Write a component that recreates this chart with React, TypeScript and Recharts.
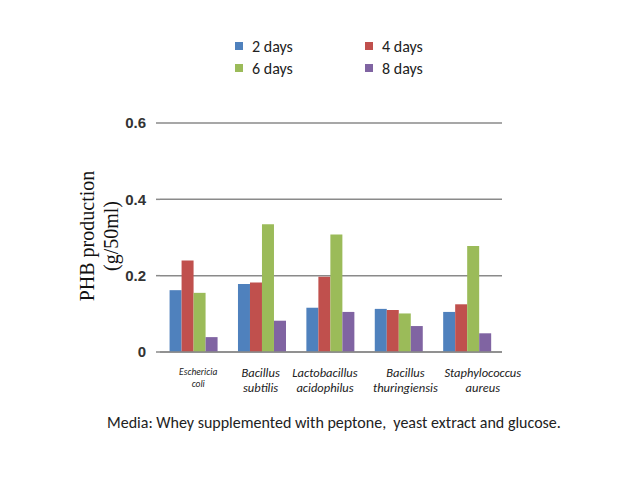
import React from "react";
import { BarChart, Bar, XAxis, YAxis, CartesianGrid } from "recharts";

const categories = [
	"Eschericia coli",
	"Bacillus subtilis",
	"Lactobacillus acidophilus",
	"Bacillus thuringiensis",
	"Staphylococcus aureus",
];
const days2 = [0.162, 0.178, 0.116, 0.113, 0.105];
const days4 = [0.24, 0.182, 0.197, 0.11, 0.125];
const days6 = [0.155, 0.335, 0.308, 0.101, 0.278];
const days8 = [0.039, 0.082, 0.105, 0.068, 0.049];
const yTicks = [0, 0.2, 0.4, 0.6];

const SERIES = [
	{ key: "d2", name: "2 days", color: "#4F81BD" },
	{ key: "d4", name: "4 days", color: "#C0504D" },
	{ key: "d6", name: "6 days", color: "#9BBB59" },
	{ key: "d8", name: "8 days", color: "#8064A2" },
];

const data = categories.map((name, i) => ({
	name,
	d2: days2[i],
	d4: days4[i],
	d6: days6[i],
	d8: days8[i],
}));

// small horizontal nudges so the italic labels sit like the original slide
const TICK_NUDGE = [4, -2, -6, 6, 15];

const SANS = "Carlito, 'Open Sans', 'Liberation Sans', sans-serif";

const CategoryTick = ({ x, y, payload, index }: any) => {
	const [first, ...rest] = String(payload.value).split(" ");
	const small = index === 0;
	return (
		<g transform={`translate(${x + (TICK_NUDGE[index] || 0)},${y})`}>
			<text
				textAnchor="middle"
				fontFamily={SANS}
				fontStyle="italic"
				fontSize={small ? 9.5 : 12.5}
				fill="#222">
				<tspan x={0} dy={small ? 15 : 17}>
					{first}
				</tspan>
				<tspan x={0} dy={small ? 12 : 14.5}>
					{rest.join(" ")}
				</tspan>
			</text>
		</g>
	);
};

// two-column legend above the plot
const LegendBox = () => (
	<div
		style={{
			position: "absolute",
			left: 235,
			top: 35,
			display: "grid",
			gridTemplateColumns: "130px 100px",
			fontFamily: SANS,
			fontSize: 16,
			color: "#222",
		}}>
		{SERIES.map((s) => (
			<div
				key={s.key}
				style={{ display: "flex", alignItems: "center", height: 22 }}>
				<span
					style={{
						width: 8,
						height: 8,
						background: s.color,
						marginRight: 9,
						display: "inline-block",
					}}
				/>
				{s.name}
			</div>
		))}
	</div>
);

export default function App() {
	return (
		<div
			style={{
				position: "absolute",
				left: 0,
				top: 0,
				width: 638,
				height: 478,
				background: "#fff",
			}}>
			<BarChart
				width={638}
				height={478}
				data={data}
				margin={{ top: 123, right: 136, bottom: 86, left: 120 }}
				barCategoryGap="14%"
				barGap={0}>
				<CartesianGrid
					vertical={false}
					stroke="#8a8a8a"
					strokeWidth={1.5}
				/>
				<XAxis
					dataKey="name"
					height={40}
					interval={0}
					axisLine={{ stroke: "#8a8a8a", strokeWidth: 1.5 }}
					tickLine={false}
					tick={<CategoryTick />}
				/>
				<YAxis
					width={40}
					domain={[0, 0.6]}
					ticks={yTicks}
					axisLine={false}
					tickLine={{ stroke: "#8a8a8a", strokeWidth: 1.5 }}
					tickSize={4}
					tickMargin={10}
					tickFormatter={(v: number) => (v === 0 ? "0" : v.toFixed(1))}
					tick={{
						fontFamily: "'Liberation Sans Narrow', 'Liberation Sans', sans-serif",
						fontWeight: "bold",
						fontSize: 15,
						fill: "#333",
					}}
				/>
				{SERIES.map((s) => (
					<Bar
						key={s.key}
						dataKey={s.key}
						name={s.name}
						fill={s.color}
						isAnimationActive={false}
					/>
				))}
			</BarChart>
			<LegendBox />
			<div
				style={{
					position: "absolute",
					left: 99,
					top: 236,
					transform: "translate(-50%, -50%) rotate(-90deg)",
					fontFamily: "'Liberation Serif', 'DejaVu Serif', serif",
					fontSize: 20,
					lineHeight: "24px",
					textAlign: "center",
					whiteSpace: "nowrap",
					color: "#111",
				}}>
				PHB production
				<br />
				(g/50ml)
			</div>
			<div
				style={{
					position: "absolute",
					left: 107,
					top: 413,
					fontFamily: SANS,
					fontSize: 16,
					whiteSpace: "pre",
					color: "#222",
				}}>
				Media: Whey supplemented with peptone,  yeast extract and glucose.
			</div>
		</div>
	);
}
